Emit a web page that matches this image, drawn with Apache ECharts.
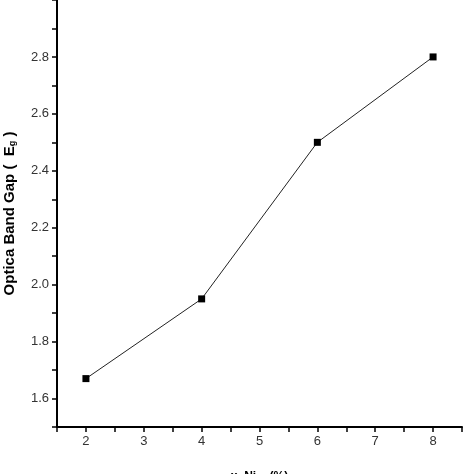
<!DOCTYPE html>
<html>
<head>
<meta charset="utf-8">
<script src="https://cdn.jsdelivr.net/npm/echarts@6/dist/echarts.min.js"></script>
<style>html,body{margin:0;padding:0;background:#fff}#c{width:474px;height:474px}</style>
</head>
<body>
<div id="c"></div>
<script>
const xValues = [2, 4, 6, 8];
const bandGap = [1.67, 1.95, 2.5, 2.8];

const chart = echarts.init(document.getElementById('c'));
const labelStyle = { color: '#333', fontSize: 13, fontFamily: 'Liberation Sans Narrow, Arial Narrow, sans-serif' };
const lineStyle = { show: true, lineStyle: { color: '#000', width: 2 } };
const tickStyle = { show: true, length: 5, lineStyle: { color: '#000', width: 1.5 } };

chart.setOption({
  animation: false,
  grid: { left: 57, right: 12, top: 0, bottom: 47, containLabel: false, outerBoundsMode: 'none' },
  xAxis: {
    type: 'value', min: 1.5, max: 8.5, interval: 0.5,
    name: 'x  Ni    (%)', nameLocation: 'middle', nameGap: 44,
    nameTextStyle: { fontSize: 12, fontWeight: 'bold', color: '#000' },
    axisLine: lineStyle, axisTick: tickStyle, splitLine: { show: false },
    axisLabel: Object.assign({}, labelStyle, {
      formatter: v => Number.isInteger(v) ? String(v) : ''
    })
  },
  yAxis: {
    type: 'value', min: 1.5, max: 3.0, interval: 0.1,
    name: '{a|Optica Band Gap (  E}{s|g}{a| )}', nameLocation: 'middle', nameGap: 40,
    nameTextStyle: {
      rich: {
        a: { fontSize: 15, fontWeight: 'bold', color: '#000', fontFamily: 'Liberation Sans, Arial, sans-serif' },
        s: { fontSize: 9, fontWeight: 'bold', color: '#000', verticalAlign: 'bottom', padding: [6, 0, 0, 0] }
      }
    },
    axisLine: lineStyle, axisTick: tickStyle, splitLine: { show: false },
    axisLabel: Object.assign({}, labelStyle, {
      formatter: v => (Math.round(v * 10) % 2 === 0 && v > 1.55 && v < 2.95) ? v.toFixed(1) : ''
    })
  },
  series: [{
    type: 'line',
    data: xValues.map((x, i) => [x, bandGap[i]]),
    symbol: 'rect', symbolSize: 7,
    itemStyle: { color: '#000' },
    lineStyle: { color: '#222', width: 1 }
  }]
});
</script>
</body>
</html>
